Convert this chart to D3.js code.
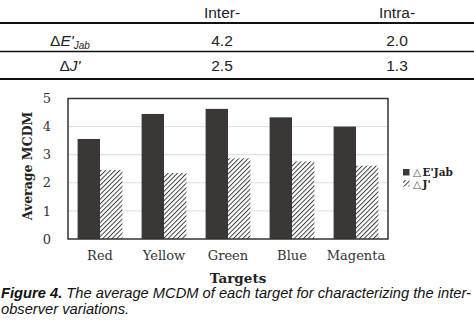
<!DOCTYPE html>
<html>
<head>
<meta charset="utf-8">
<script src="https://cdn.jsdelivr.net/npm/d3@7"></script>
<style>
  html, body { margin: 0; padding: 0; background: #fff; }
  svg { display: block; }
</style>
</head>
<body>
<svg id="fig" width="474" height="327"></svg>
<script>
// Summary table (inter- / intra-observer variation)
const tableCols = ["Inter-", "Intra-"];
const tableRows = ["ΔE'Jab", "ΔJ'"];
const tableValues = [[4.2, 2.0], [2.5, 1.3]];

// Bar chart: average MCDM per target
const targets = ["Red", "Yellow", "Green", "Blue", "Magenta"];
const seriesNames = ["E'Jab", "J'"];
const deltaEJab = [3.56, 4.45, 4.63, 4.33, 4.0];
const deltaJ = [2.46, 2.35, 2.87, 2.76, 2.61];
const yTicks = [0, 1, 2, 3, 4, 5];

const svg = d3.select("#fig");
const sans = "'Liberation Sans', Arial, sans-serif";
const serif = "'DejaVu Serif', 'Liberation Serif', serif";
const dark = "#3a3736";

// ---- table ----
const tbl = svg.append("g");
const colX = d3.scaleOrdinal().domain(tableCols).range([222, 397]);
[[23, 2.2], [51.5, 1.6], [79, 2.2]].forEach(([y, w]) => {
  tbl.append("line").attr("x1", 0).attr("x2", 474).attr("y1", y).attr("y2", y)
    .attr("stroke", "#111").attr("stroke-width", w);
});
tbl.selectAll("text.hdr").data(tableCols).join("text")
  .attr("class", "hdr")
  .attr("x", d => colX(d)).attr("y", 18)
  .attr("text-anchor", "middle")
  .attr("font-family", sans).attr("font-size", 15.5).attr("fill", "#222")
  .text(d => d);
const rowY = [45.5, 71];
tableRows.forEach((r, i) => {
  const t = tbl.append("text").attr("x", 70).attr("y", rowY[i])
    .attr("text-anchor", "middle").attr("font-family", sans)
    .attr("font-size", 15.5).attr("fill", "#222");
  if (i === 0) {
    t.append("tspan").text("Δ");
    t.append("tspan").attr("font-style", "italic").text("E'");
    t.append("tspan").attr("font-style", "italic").attr("font-size", 10)
      .attr("dy", 3).text("Jab");
  } else {
    t.append("tspan").text("Δ");
    t.append("tspan").attr("font-style", "italic").text("J'");
  }
  tableCols.forEach((c, j) => {
    tbl.append("text").attr("x", colX(c)).attr("y", rowY[i])
      .attr("text-anchor", "middle").attr("font-family", sans)
      .attr("font-size", 15.5).attr("fill", "#222")
      .text(tableValues[i][j].toFixed(1));
  });
});

// ---- chart ----
const plot = { left: 68, right: 388, top: 98.5, bottom: 239 };

const defs = svg.append("defs");
const pat = defs.append("pattern").attr("id", "hatch")
  .attr("patternUnits", "userSpaceOnUse").attr("width", 3.3).attr("height", 3.3)
  .attr("patternTransform", "rotate(45)");
pat.append("rect").attr("width", 3.3).attr("height", 3.3).attr("fill", "#fff");
pat.append("line").attr("x1", 0).attr("y1", 0).attr("x2", 0).attr("y2", 3.3)
  .attr("stroke", dark).attr("stroke-width", 1.9);

const x0 = d3.scaleBand().domain(targets).range([plot.left, plot.right])
  .paddingInner(0.3).paddingOuter(0.15);
const x1 = d3.scaleBand().domain(seriesNames).range([0, x0.bandwidth()]);
const y = d3.scaleLinear().domain([0, 5]).range([plot.bottom, plot.top]);

// gridlines
svg.append("g").selectAll("line").data(yTicks.slice(1, -1)).join("line")
  .attr("x1", plot.left).attr("x2", plot.right)
  .attr("y1", d => y(d)).attr("y2", d => y(d))
  .attr("stroke", "#dcdcdc").attr("stroke-width", 1);

// bars
const series = [deltaEJab, deltaJ];
const fills = [dark, "url(#hatch)"];
series.forEach((vals, si) => {
  svg.append("g").selectAll("rect").data(vals).join("rect")
    .attr("x", (d, i) => x0(targets[i]) + x1(seriesNames[si]))
    .attr("width", x1.bandwidth())
    .attr("y", d => y(d))
    .attr("height", d => y(0) - y(d))
    .attr("fill", fills[si]);
});

// frame
svg.append("rect").attr("x", plot.left).attr("y", plot.top)
  .attr("width", plot.right - plot.left).attr("height", plot.bottom - plot.top)
  .attr("fill", "none").attr("stroke", "#333").attr("stroke-width", 1.5);

// y axis labels
const yAxis = d3.axisLeft(y).tickValues(yTicks).tickFormat(d3.format("d"))
  .tickSize(0).tickPadding(17);
const ya = svg.append("g").attr("transform", `translate(${plot.left},0)`).call(yAxis);
ya.select(".domain").remove();
ya.selectAll("text").attr("font-family", serif).attr("font-size", 13).attr("fill", "#333");

// x axis labels
const xAxis = d3.axisBottom(x0).tickSize(0).tickPadding(12);
const xa = svg.append("g").attr("transform", `translate(0,${plot.bottom})`).call(xAxis);
xa.select(".domain").remove();
xa.selectAll("text").attr("font-family", serif).attr("font-size", 13).attr("fill", "#333");

// axis titles
svg.append("text").attr("transform", "translate(32,166) rotate(-90)")
  .attr("text-anchor", "middle").attr("font-family", serif).attr("font-weight", "bold")
  .attr("font-size", 12.5).attr("fill", "#222").text("Average MCDM");
svg.append("text").attr("x", 238).attr("y", 283)
  .attr("text-anchor", "middle").attr("font-family", serif).attr("font-weight", "bold")
  .attr("font-size", 13.5).attr("fill", "#222").text("Targets");

// legend
const lg = svg.append("g").attr("transform", "translate(403,0)");
lg.append("rect").attr("x", 0).attr("y", 169).attr("width", 6.5).attr("height", 6.5).attr("fill", dark);
lg.append("rect").attr("x", 0).attr("y", 180).attr("width", 6.5).attr("height", 6.5).attr("fill", "url(#hatch)");
const lgText = lg.selectAll("text").data(seriesNames).join("text")
  .attr("x", 10).attr("y", (d, i) => 176 + i * 11.5)
  .attr("font-family", serif).attr("font-size", 10.5).attr("fill", "#222");
lgText.append("tspan").attr("font-family", "'DejaVu Sans', sans-serif")
  .attr("font-size", 10.5).attr("fill", "#555").text("△");
lgText.append("tspan").attr("dx", 1.5).attr("font-weight", "bold").text(d => d);

// caption
const cap = svg.append("text").attr("font-family", sans).attr("font-style", "italic")
  .attr("font-size", 14.7).attr("fill", "#111");
const l1 = cap.append("tspan").attr("x", 1).attr("y", 297.5);
l1.append("tspan").attr("font-weight", "bold").text("Figure 4.");
l1.append("tspan").text(" The average MCDM of each target for characterizing the inter-");
cap.append("tspan").attr("x", 1).attr("y", 313.5).text("observer variations.");
</script>
</body>
</html>
